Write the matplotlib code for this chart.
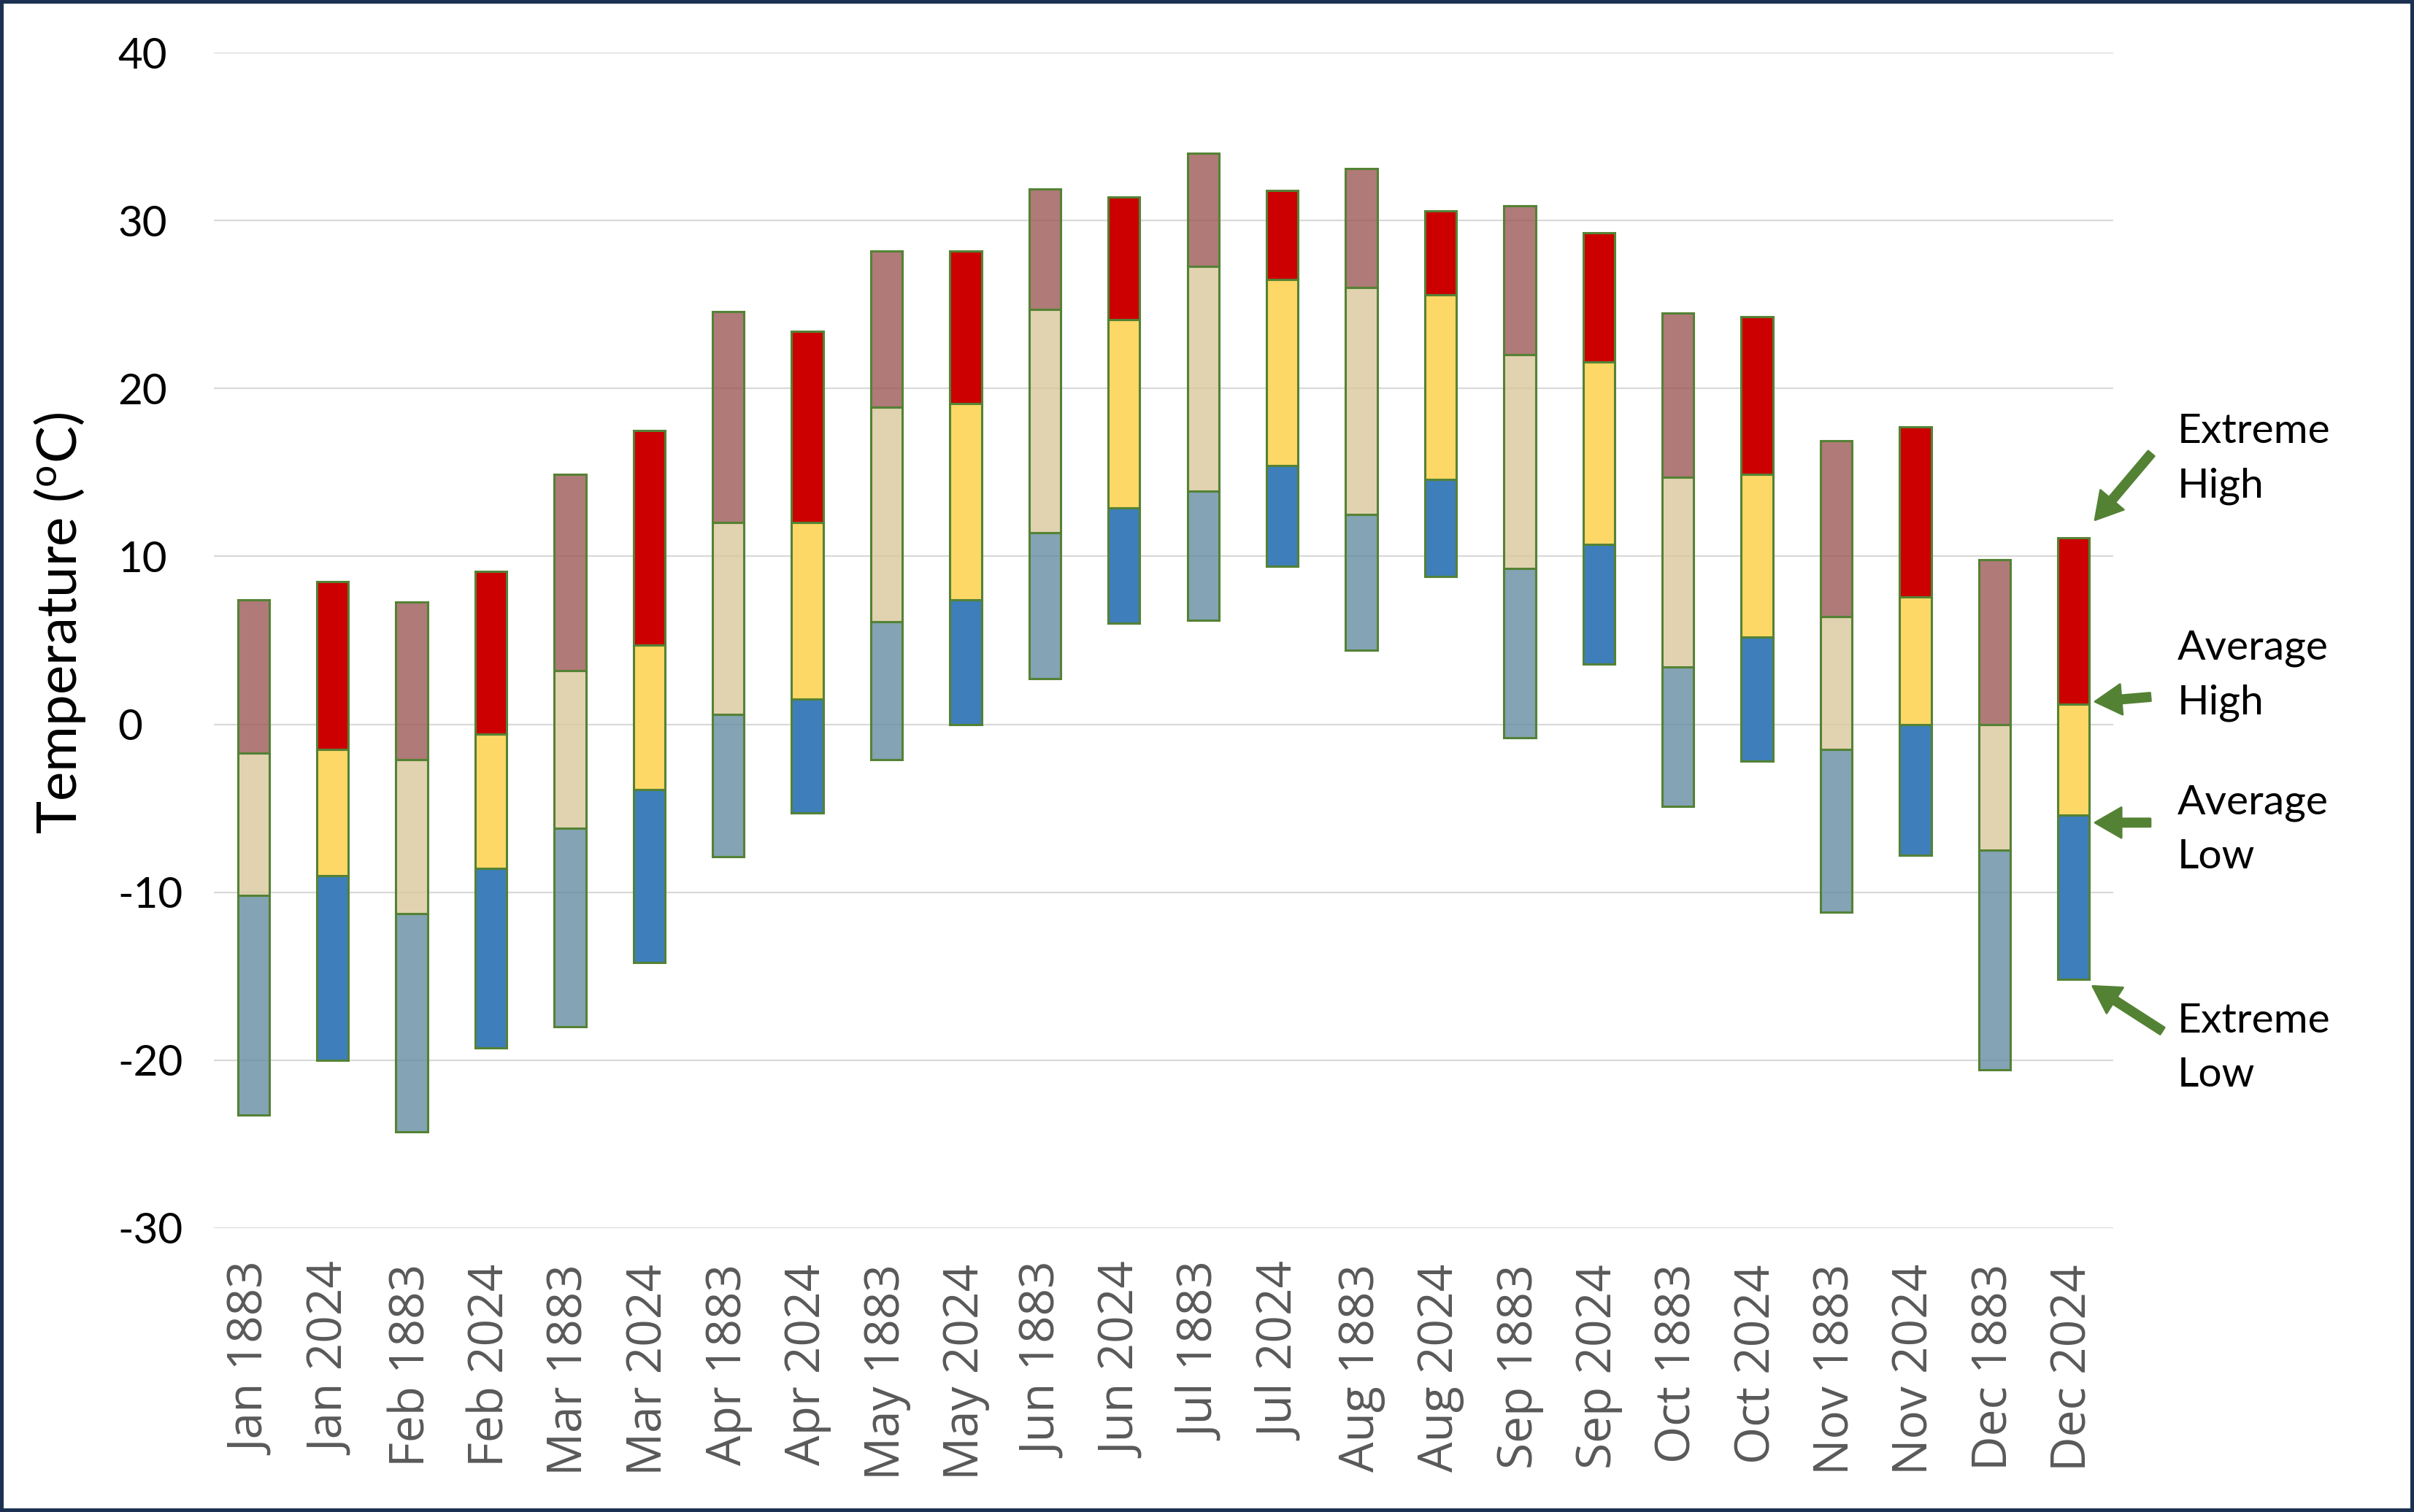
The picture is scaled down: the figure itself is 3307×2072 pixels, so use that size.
import matplotlib
matplotlib.use("Agg")
import matplotlib.pyplot as plt
from matplotlib.colors import to_rgba
from matplotlib.patches import Rectangle

# Monthly temperature ranges (deg C): extreme low, average low, average high, extreme high
MONTHS = ["Jan", "Feb", "Mar", "Apr", "May", "Jun",
          "Jul", "Aug", "Sep", "Oct", "Nov", "Dec"]
YEARS = ["1883", "2024"]

ext_low_1883 = [-23.3, -24.3, -18.0, -7.9, -2.1, 2.7, 6.2, 4.4, -0.8, -4.9, -11.2, -20.6]
avg_low_1883 = [-10.2, -11.3, -6.2, 0.6, 6.1, 11.4, 13.9, 12.5, 9.3, 3.4, -1.5, -7.5]
avg_high_1883 = [-1.7, -2.1, 3.2, 12.0, 18.9, 24.7, 27.3, 26.0, 22.0, 14.7, 6.4, 0.0]
ext_high_1883 = [7.4, 7.3, 14.9, 24.6, 28.2, 31.9, 34.0, 33.1, 30.9, 24.5, 16.9, 9.8]

ext_low_2024 = [-20.0, -19.3, -14.2, -5.3, 0.0, 6.0, 9.4, 8.8, 3.6, -2.2, -7.8, -15.2]
avg_low_2024 = [-9.0, -8.6, -3.9, 1.5, 7.4, 12.9, 15.4, 14.6, 10.7, 5.2, 0.0, -5.4]
avg_high_2024 = [-1.5, -0.6, 4.7, 12.0, 19.1, 24.1, 26.5, 25.6, 21.6, 14.9, 7.6, 1.2]
ext_high_2024 = [8.5, 9.1, 17.5, 23.4, 28.2, 31.4, 31.8, 30.6, 29.3, 24.3, 17.7, 11.1]

Y_TICKS = [-30, -20, -10, 0, 10, 20, 30, 40]

EDGE = "#548235"
GRID = "#D9D9D9"
OLD_ALPHA = 0.8
OLD_COLORS = ["#668CA2", "#DBC89C", "#9C5956"]   # low, mid, high (drawn semi-transparent)
NEW_COLORS = ["#3D7EBB", "#FDD866", "#CC0000"]

plt.rcParams["font.family"] = ["Lato", "DejaVu Sans"]

W, H, DPI = 3307, 2072, 200
fig = plt.figure(figsize=(W / DPI, H / DPI), dpi=DPI)
ax = fig.add_axes([293 / W, (H - 1682.6) / H, 2602 / W, 1610.2 / H])

x_old = [2 * i for i in range(len(MONTHS))]
x_new = [2 * i + 1 for i in range(len(MONTHS))]


def draw_stack(xs, lo, alo, ahi, hi, colors, alpha):
    segs = [(lo, alo), (alo, ahi), (ahi, hi)]
    for (b, t), c in zip(segs, colors):
        heights = [tt - bb for bb, tt in zip(b, t)]
        ax.bar(xs, heights, bottom=b, width=0.4, color=to_rgba(c, alpha),
               edgecolor=EDGE, linewidth=1.1, zorder=2)


draw_stack(x_old, ext_low_1883, avg_low_1883, avg_high_1883, ext_high_1883,
           OLD_COLORS, OLD_ALPHA)
draw_stack(x_new, ext_low_2024, avg_low_2024, avg_high_2024, ext_high_2024,
           NEW_COLORS, 1.0)

labels = [f"{m} {y}" for m in MONTHS for y in YEARS]
ax.set_xlim(-0.5, len(labels) - 0.5)
ax.set_ylim(-30, 40)
ax.set_xticks(range(len(labels)))
ax.set_xticklabels(labels, rotation=90, fontsize=23.7, color="#595959",
                   family=["Open Sans", "DejaVu Sans"])
ax.set_yticks(Y_TICKS)
ax.set_yticklabels([str(v) for v in Y_TICKS], fontsize=21, color="black")
for t in ax.get_yticklabels():
    t.set_ha("left")
ax.tick_params(axis="y", length=0, pad=47.5)
ax.tick_params(axis="x", length=0, pad=17.8)

ax.set_axisbelow(True)
ax.grid(axis="y", color=GRID, linewidth=0.8, zorder=0)
for s in ax.spines.values():
    s.set_visible(False)

fig.text(82 / W, 1 - 854 / H, r"Temperature ($\mathregular{^o}$C)", rotation=90,
         ha="center", va="center", fontsize=27.5)

# Legend-like annotations beside the last bar
notes = [("Extreme\nHigh", 15.8, (23.27, 12.17), (23.98, 16.13)),
         ("Average\nHigh", 2.9, (23.27, 1.35), (23.97, 1.63)),
         ("Average\nLow", -6.3, (23.27, -5.86), (23.97, -5.86)),
         ("Extreme\nLow", -19.3, (23.24, -15.6), (24.12, -18.27))]
for txt, ty, tip, tail in notes:
    ax.text(24.31, ty, txt, fontsize=20.5, ha="left", va="center",
            linespacing=1.57, clip_on=False)
    ax.annotate("", xy=tip, xytext=tail, annotation_clip=False,
                arrowprops=dict(width=4, headwidth=15, headlength=13,
                                color=EDGE, shrink=0))

fig.patches.append(Rectangle((0, 0), 1, 1, transform=fig.transFigure, fill=False,
                             edgecolor="#1C3152", linewidth=3.6))

fig.savefig("out.png", dpi=DPI)
